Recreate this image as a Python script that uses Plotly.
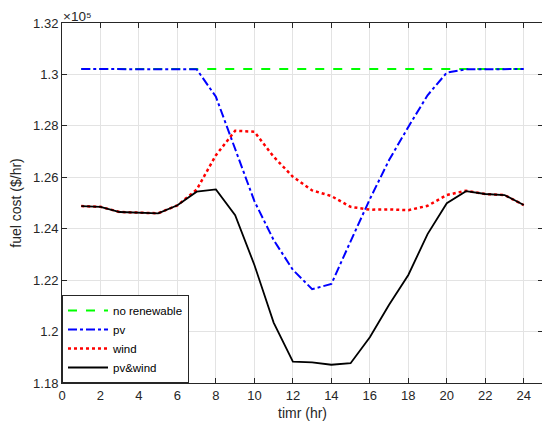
"""
Fuel cost per hour with and without renewable sources.
"""
import plotly.graph_objects as go

hours = list(range(1, 25))

no_renewable = [130210] * 24

pv = [130210, 130210, 130210, 130210, 130210, 130210, 130200, 129130,
      127100, 125070, 123560, 122400, 121650, 121850, 123510, 125150,
      126670, 127960, 129190, 130070, 130200, 130210, 130210, 130210]

wind = [124880, 124850, 124650, 124620, 124600, 124910, 125520, 126860,
        127810, 127770, 126800, 126020, 125490, 125270, 124850, 124740,
        124750, 124720, 124890, 125310, 125480, 125350, 125310, 124920]

pv_wind = [124880, 124850, 124650, 124620, 124600, 124910, 125440, 125530,
           124530, 122590, 120350, 118830, 118800, 118710, 118770, 119780,
           121040, 122200, 123790, 124990, 125460, 125350, 125310, 124920]

y_ticks = [118000, 120000, 122000, 124000, 126000, 128000, 130000, 132000]
y_tick_text = ['1.18', '1.2', '1.22', '1.24', '1.26', '1.28', '1.3', '1.32']
x_ticks = list(range(0, 25, 2))

FONT = 'Liberation Sans, Arial, sans-serif'
AXIS_COLOR = '#262626'

fig = go.Figure()
fig.add_trace(go.Scatter(x=hours, y=no_renewable, mode='lines', name='no renewable',
                         line=dict(color='#00ff00', width=2, dash='dash')))
fig.add_trace(go.Scatter(x=hours, y=pv, mode='lines', name='pv',
                         line=dict(color='#0000ff', width=2, dash='dashdot')))
fig.add_trace(go.Scatter(x=hours, y=wind, mode='lines', name='wind',
                         line=dict(color='#ff0000', width=2.5, dash='dot')))
fig.add_trace(go.Scatter(x=hours, y=pv_wind, mode='lines', name='pv&wind',
                         line=dict(color='black', width=1.8)))

axis_common = dict(
    showgrid=True, gridcolor='#e3e3e3', gridwidth=1,
    showline=True, linecolor=AXIS_COLOR, linewidth=1, mirror='ticks',
    ticks='inside', ticklen=5, tickcolor=AXIS_COLOR,
    tickfont=dict(family=FONT, size=13, color='#262626'),
    zeroline=False,
)

fig.update_xaxes(range=[0, 25], tickvals=x_ticks,
                 title=dict(text='timr (hr)', font=dict(family=FONT, size=14, color='#262626'),
                            standoff=6),
                 **axis_common)
fig.update_yaxes(range=[118000, 132000], tickvals=y_ticks, ticktext=y_tick_text,
                 title=dict(text='fuel cost ($/hr)', font=dict(family=FONT, size=14, color='#262626'),
                            standoff=8),
                 **axis_common)

# exponent label in the top-left corner, MATLAB style
fig.add_annotation(text='×10⁵', xref='paper', yref='paper', x=0, y=1,
                   xanchor='left', yanchor='bottom', yshift=-2, showarrow=False,
                   borderpad=0, font=dict(family=FONT, size=13.5, color='#262626'))

# the page body adds an 8px margin, so the figure is shrunk by that much
fig.update_layout(
    width=542, height=424,
    margin=dict(l=54, r=7, t=15, b=49),
    paper_bgcolor='white', plot_bgcolor='white',
    font=dict(family=FONT, size=13, color='#262626'),
    legend=dict(x=0, y=0, xanchor='left', yanchor='bottom',
                bgcolor='white', bordercolor=AXIS_COLOR, borderwidth=1,
                font=dict(family=FONT, size=11.5, color='black'),
                tracegroupgap=0, itemwidth=40),
)

fig.write_html("out.html")
